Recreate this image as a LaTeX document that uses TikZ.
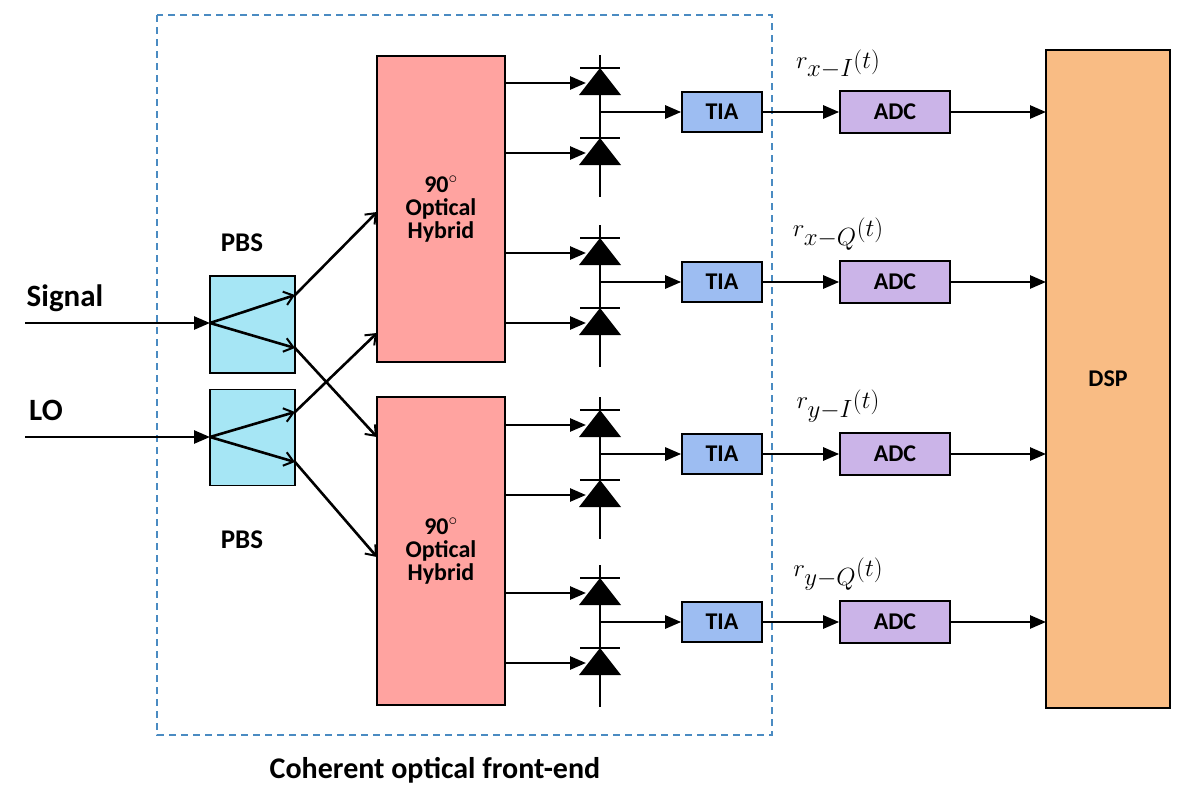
\documentclass[tikz,border=0pt]{standalone}
\usepackage{fontspec}
\setmainfont{Carlito}
\usetikzlibrary{arrows.meta}
\definecolor{pbsc}{HTML}{A6E6F5}
\definecolor{hybc}{HTML}{FFA3A0}
\definecolor{tiac}{HTML}{9DBDF2}
\definecolor{adcc}{HTML}{CBB4E8}
\definecolor{dspc}{HTML}{F9BC84}
\definecolor{dashc}{HTML}{4A8BC2}
\begin{document}
\begin{tikzpicture}[x=1pt,y=-1pt,line width=2.6pt,
  box/.style={draw=black,line width=1.6pt,inner sep=0pt,align=center,font=\bfseries\fontsize{24}{26}\selectfont},
  arr/.style={-{Triangle[length=16pt,width=13pt]}},
  barb/.style={-{Straight Barb[length=9pt,width=14pt,line width=2pt]}},
  lbl/.style={font=\bfseries\fontsize{27}{30}\selectfont}]
\useasboundingbox (0,0) rectangle (1181,795);
\draw[dashc,line width=2pt,dash pattern=on 7pt off 5pt] (157,15) rectangle (772,735);

% PBS
\node[box,fill=pbsc,minimum width=85,minimum height=97] (p1) at (252.5,324.5) {};
\node[box,fill=pbsc,minimum width=85,minimum height=96] (p2) at (252.5,437.5) {};
\node[lbl] at (242,243) {PBS};
\node[lbl] at (242,540) {PBS};
\node[lbl,font=\bfseries\fontsize{31}{34}\selectfont] at (65,298) {Signal};
\node[lbl,font=\bfseries\fontsize{31}{34}\selectfont] at (46,410) {LO};
\coordinate (s0) at (25,323);
\coordinate (l0) at (25,437);
\coordinate (s1) at (210,323);
\coordinate (l1) at (210,437);
\draw[arr] (s0) -- (s1);
\draw[arr] (l0) -- (l1);

% hybrids
\node[box,fill=hybc,minimum width=128,minimum height=306] (h1) at (441,209) {90$^{\circ}$\\[-3pt]Optical\\[-3pt]Hybrid};
\node[box,fill=hybc,minimum width=128,minimum height=308] (h2) at (441,551) {90$^{\circ}$\\[-3pt]Optical\\[-3pt]Hybrid};

\coordinate (a1) at (295,295); \coordinate (a2) at (295,348);
\coordinate (b1) at (295,412); \coordinate (b2) at (295,462);
\draw[barb] (s1) -- (a1); \draw[barb] (s1) -- (a2);
\draw[barb] (l1) -- (b1); \draw[barb] (l1) -- (b2);
\draw[barb] (a1) -- (377,212);
\draw[barb] (b1) -- (377,333);
\draw[barb] (a2) -- (377,437);
\draw[barb] (b2) -- (377,557);

% photodiode pairs, TIA, ADC
\foreach \o/\lab [count=\i] in {0/{x-I},170/{x-Q},342/{y-I},510/{y-Q}}{
  \draw (600,55+\o) -- (600,197+\o);
  \fill (600,68+\o) -- (621,95+\o) -- (579,95+\o) -- cycle;
  \fill (600,138+\o) -- (621,165+\o) -- (579,165+\o) -- cycle;
  \draw (580,68+\o) -- (620,68+\o);
  \draw (580,138+\o) -- (620,138+\o);
  \draw[arr] (505,83+\o) -- (586,83+\o);
  \draw[arr] (505,153+\o) -- (586,153+\o);
  \node[box,fill=tiac,minimum width=80,minimum height=40] (t\i) at (722,112+\o) {TIA};
  \node[box,fill=adcc,minimum width=110,minimum height=42] (d\i) at (895,112+\o) {ADC};
  \coordinate (k\i) at (600,112+\o);
  \draw[arr] (k\i) -- (t\i.west);
  \draw[arr] (t\i.east) -- (d\i.west);
  \coordinate (e\i) at (1046,112+\o);
  \draw[arr] (d\i.east) -- (e\i);
  \node[font=\fontsize{34}{36}\selectfont] at (838,64+\o) {$r_{\lab}(t)$};
}

\node[box,fill=dspc,minimum width=124,minimum height=658] (dsp) at (1108,379) {DSP};
\node[lbl,font=\bfseries\fontsize{30}{32}\selectfont] at (435,770) {Coherent optical front-end};
\end{tikzpicture}
\end{document}
